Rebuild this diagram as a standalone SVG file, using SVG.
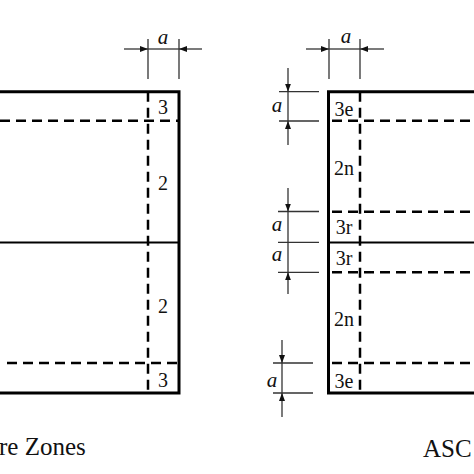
<svg xmlns="http://www.w3.org/2000/svg" width="474" height="474" viewBox="0 0 474 474">
<defs>
<marker id="arr" viewBox="0 0 8 6" refX="8" refY="3" markerWidth="8" markerHeight="6" markerUnits="userSpaceOnUse" orient="auto">
<path d="M0,0 L8,3 L0,6 z" fill="#111"/>
</marker>
</defs>
<style>
.frame{fill:none;stroke:#000;stroke-width:3}
.mid{fill:none;stroke:#000;stroke-width:2}
.dash{fill:none;stroke:#000;stroke-width:2.5;stroke-dasharray:10 6}
.dim{fill:none;stroke:#333;stroke-width:1.3}
.lbl{font-family:"Liberation Serif",serif;font-size:20px;fill:#111;text-anchor:middle}
.a{font-family:"Liberation Serif",serif;font-style:italic;font-size:21px;fill:#111;text-anchor:middle}
.cap{font-family:"Liberation Serif",serif;font-size:25px;fill:#111}
</style>
<rect width="474" height="474" fill="#fff"/>
<g id="left-panel">
<path class="frame" d="M-5,91.7 H179 V393 H-5"/>
<path class="mid" d="M-5,242.5 H179"/>
<path class="dash" d="M0,120.7 H179"/>
<path class="dash" d="M7,363 H177"/>
<path class="dash" d="M148,91.7 V393"/>
<text class="lbl" x="163" y="114">3</text>
<text class="lbl" x="163" y="190">2</text>
<text class="lbl" x="163" y="313">2</text>
<text class="lbl" x="163" y="387">3</text>
<text class="cap" x="-1" y="455">re Zones</text>
</g>
<g id="right-panel">
<path class="frame" d="M479,91.7 H328.5 V393 H479"/>
<path class="mid" d="M328.5,242.5 H479"/>
<path class="dash" d="M332,120.7 H479"/>
<path class="dash" d="M332,211.7 H479"/>
<path class="dash" d="M332,272.3 H479"/>
<path class="dash" d="M332,363 H479"/>
<path class="dash" d="M360,91.7 V393"/>
<text class="lbl" x="344" y="116">3e</text>
<text class="lbl" x="344" y="175">2n</text>
<text class="lbl" x="344" y="234">3r</text>
<text class="lbl" x="344" y="265">3r</text>
<text class="lbl" x="344" y="326">2n</text>
<text class="lbl" x="344" y="388">3e</text>
<text class="cap" x="423" y="457">ASC</text>
</g>
<g id="connectors">
<path class="dim" d="M148,39 V79 M179,39 V79"/>
<path class="dim" d="M124,49 H148" marker-end="url(#arr)"/>
<path class="dim" d="M202,49 H179" marker-end="url(#arr)"/>
<path class="dim" d="M148,49 H179"/>
<text class="a" x="163" y="44">a</text>
<path class="dim" d="M329,39 V79 M360,39 V79"/>
<path class="dim" d="M306,49 H329" marker-end="url(#arr)"/>
<path class="dim" d="M384,49 H360" marker-end="url(#arr)"/>
<path class="dim" d="M329,49 H360"/>
<text class="a" x="346" y="43">a</text>
<path class="dim" d="M279,91.7 H319 M279,121 H319"/>
<path class="dim" d="M288,68 V91.7" marker-end="url(#arr)"/>
<path class="dim" d="M288,145 V121" marker-end="url(#arr)"/>
<path class="dim" d="M288,91.7 V121"/>
<text class="a" x="277" y="112">a</text>
<path class="dim" d="M278,211.5 H319 M278,242.3 H319 M278,272.3 H319"/>
<path class="dim" d="M288,188 V211.5" marker-end="url(#arr)"/>
<path class="dim" d="M288,294 V272.3" marker-end="url(#arr)"/>
<path class="dim" d="M288,211.5 V272.3"/>
<text class="a" x="277" y="231">a</text>
<text class="a" x="277" y="261">a</text>
<path class="dim" d="M273,363 H313 M273,393 H313"/>
<path class="dim" d="M282,340 V363" marker-end="url(#arr)"/>
<path class="dim" d="M282,417 V393" marker-end="url(#arr)"/>
<path class="dim" d="M282,363 V393"/>
<text class="a" x="272" y="387">a</text>
</g>
</svg>
